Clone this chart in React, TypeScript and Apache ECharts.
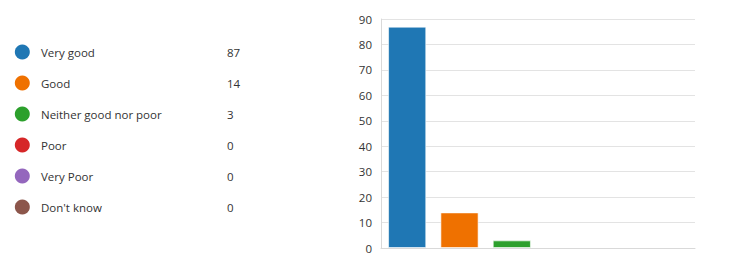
import React, { useEffect, useRef } from "react";
import * as echarts from "echarts";

const categories = ["Very good", "Good", "Neither good nor poor", "Poor", "Very Poor", "Don't know"];
const values = [87, 14, 3, 0, 0, 0];
const colors = ["#1f77b4", "#ef7100", "#2ca02c", "#d62728", "#9467bd", "#8c564b"];
const yTicks = [0, 10, 20, 30, 40, 50, 60, 70, 80, 90];

const FONT = "'Open Sans', 'Noto Sans', sans-serif";

export default function App() {
  const ref = useRef<HTMLDivElement>(null);
  useEffect(() => {
    document.body.style.margin = "0";
    const chart = echarts.init(ref.current!, null, { renderer: "svg" });
    const legendTop = 52;
    const legendStep = 31;
    const graphics: any[] = [];
    categories.forEach((c, i) => {
      const y = legendTop + i * legendStep;
      graphics.push({
        type: "circle",
        shape: { cx: 22.3, cy: y, r: 7.5 },
        style: { fill: colors[i] },
      });
      graphics.push({
        type: "text",
        x: 41,
        y,
        style: { text: c, fill: "#333", font: `11.5px ${FONT}`, textVerticalAlign: "middle" },
      });
      graphics.push({
        type: "text",
        x: 227,
        y,
        style: { text: String(values[i]), fill: "#333", font: `11.5px ${FONT}`, textVerticalAlign: "middle" },
      });
    });
    chart.setOption({
      animation: false,
      grid: { left: 381, top: 19, right: 39, bottom: 17, containLabel: false },
      xAxis: {
        type: "category",
        data: categories,
        axisLine: { show: true, lineStyle: { color: "#d9d9d9" } },
        axisTick: { show: false },
        axisLabel: { show: false },
      },
      yAxis: {
        type: "value",
        min: yTicks[0],
        max: yTicks[yTicks.length - 1],
        interval: 10,
        axisLine: { show: true, lineStyle: { color: "#d9d9d9" } },
        axisTick: { show: false },
        axisLabel: { color: "#333", fontSize: 11.5, fontFamily: FONT, margin: 9 },
        splitLine: { lineStyle: { color: "#e3e3e3" } },
      },
      series: [
        {
          type: "bar",
          data: values.map((v, i) => ({
            value: v,
            itemStyle: {
              color: colors[i],
              borderColor: "rgba(255,255,255,0.6)",
              borderWidth: v > 0 ? 1 : 0,
            },
          })),
          barCategoryGap: "27%",
        },
      ],
      graphic: graphics,
    });
    return () => chart.dispose();
  }, []);
  return <div ref={ref} style={{ width: 734, height: 265 }} />;
}
